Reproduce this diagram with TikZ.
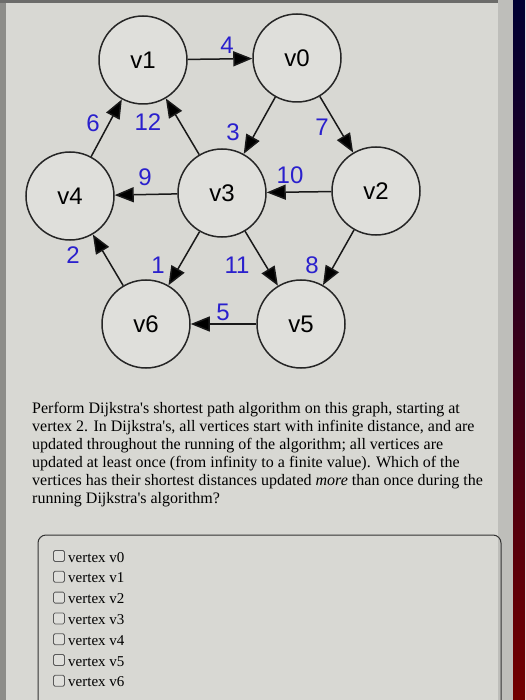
\documentclass[tikz,border=0pt]{standalone}
\usepackage{fontspec}
\setmainfont{Liberation Serif}
\setsansfont{Liberation Sans}
\usetikzlibrary{arrows.meta}
\definecolor{wblue}{RGB}{42,32,205}
\definecolor{page}{RGB}{216,216,211}
\definecolor{vfill}{RGB}{223,223,219}
\newcommand{\sq}{\textquotesingle}
\tikzset{>={Triangle[length=19pt,width=15pt]},
    vertex/.style={circle,draw=black!85,line width=1.5pt,fill=vfill,minimum size=88pt,inner sep=0pt,
        font=\sffamily\fontsize{24}{24}\selectfont},
    weight/.style={text=wblue,inner sep=0pt,font=\sffamily\fontsize{24}{24}\selectfont},
    arc/.style={->,draw=black!90,line width=1.5pt},
    option/.style={anchor=base west,inner sep=0pt,font=\fontsize{15}{18}\selectfont},
    checkbox/.style={draw=black!65,line width=0.8pt,rounded corners=1.5pt,fill=vfill,minimum size=11pt,inner sep=0pt},
    textnode/.style={}}

\begin{document}
\begin{tikzpicture}[x=1pt,y=-1pt]
\useasboundingbox (0,0) rectangle (525,700);
% screen
\fill[page] (0,0) rectangle (525,700);
\fill[black!35!page] (0,0) rectangle (6,700);
\fill[black!50!page] (0,0) rectangle (525,3);
\fill[black!12!page] (498,0) rectangle (513,700);
\shade[top color=black!80!blue, bottom color=red!45!black] (513,0) rectangle (525,700);

\node[vertex] (v1) at (143,60) {v1};
\node[vertex] (v0) at (297,58) {v0};
\node[vertex] (v4) at (70,196) {v4};
\node[vertex] (v3) at (222,193) {v3};
\node[vertex] (v2) at (376,191) {v2};
\node[vertex] (v6) at (146,324) {v6};
\node[vertex] (v5) at (301,324) {v5};

\path[arc]
    (v1) edge (v0)
    (v4) edge (v1)
    (v3) edge (v1)
    (v0) edge (v3)
    (v0) edge (v2)
    (v3) edge (v4)
    (v2) edge (v3)
    (v6) edge (v4)
    (v3) edge (v6)
    (v3) edge (v5)
    (v2) edge (v5)
    (v5) edge (v6);

% weights
\node[weight] (w4) at (227,45) {4};
\node[weight] (w6) at (93,123) {6};
\node[weight] (w12) at (148,122) {12};
\node[weight] (w3) at (233,132) {3};
\node[weight] (w7) at (322,127) {7};
\node[weight] (w9) at (145,177) {9};
\node[weight] (w10) at (290,175) {10};
\node[weight] (w2) at (73,255) {2};
\node[weight] (w1) at (158,265) {1};
\node[weight] (w11) at (237,265) {11};
\node[weight] (w8) at (312,265) {8};
\node[weight] (w5) at (223,312) {5};

\node[textnode,anchor=north west,inner sep=0pt,align=left,font=\fontsize{16}{18}\selectfont] (question) at (32,402)
{Perform Dijkstra\sq s shortest path algorithm on this graph, starting at\\
vertex 2. In Dijkstra\sq s, all vertices start with infinite distance, and are\\
updated throughout the running of the algorithm; all vertices are\\
updated at least once (from infinity to a finite value). Which of the\\
vertices has their shortest distances updated \emph{more} than once during the\\
running Dijkstra\sq s algorithm?};

% answers
\draw[black!80,line width=1pt,rounded corners=8pt] (38,700) -- (38,535) -- (501,535) -- (501,700);
\foreach \i in {0,...,6}{
    \node[checkbox] (box\i) at (59,556+20.8*\i) {};
    \node[option] (opt\i) at (68,562+20.8*\i) {vertex v\i};
}
\end{tikzpicture}
\end{document}
